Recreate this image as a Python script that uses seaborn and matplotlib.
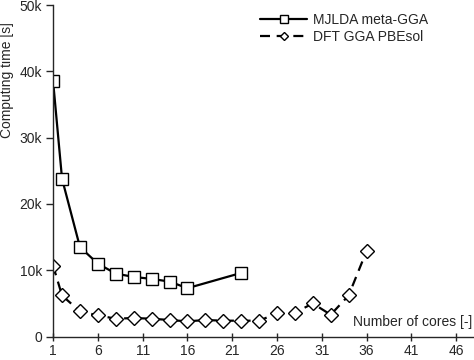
import matplotlib
matplotlib.use('Agg')
import pandas as pd
import seaborn as sns
from matplotlib import pyplot as plt
from matplotlib.ticker import FuncFormatter

mjlda_cores = [1, 2, 4, 6, 8, 10, 12, 14, 16, 22]
mjlda_time = [38500, 23800, 13500, 11000, 9500, 9000, 8700, 8300, 7300, 9600]

dft_cores = [1, 2, 4, 6, 8, 10, 12, 14, 16, 18, 20, 22, 24, 26, 28, 30, 32, 34, 36]
dft_time = [10700, 6200, 3800, 3200, 2700, 2800, 2700, 2500, 2300, 2500, 2400,
            2400, 2400, 3500, 3600, 5000, 3300, 6200, 12900]

x_ticks = [1, 6, 11, 16, 21, 26, 31, 36, 41, 46]
y_ticks = [0, 10000, 20000, 30000, 40000, 50000]

sns.set_style('ticks')
plt.rcParams['font.family'] = ['Liberation Sans', 'DejaVu Sans']

fig = plt.figure(figsize=(4.74, 3.6), dpi=100)
ax = fig.add_axes([0.112, 0.065, 0.888, 0.921])

sns.lineplot(x=mjlda_cores, y=mjlda_time, ax=ax, color='black', linewidth=1.6,
             marker='s', markersize=8, markerfacecolor='white',
             markeredgecolor='black', markeredgewidth=1.0, label='MJLDA meta-GGA')
sns.lineplot(x=dft_cores, y=dft_time, ax=ax, color='black', linewidth=1.6,
             marker='D', markersize=7, markerfacecolor='white',
             markeredgecolor='black', markeredgewidth=1.0, dashes=(4.5, 3),
             label='DFT GGA PBEsol')

ax.set_xlim(1, 48)
ax.set_ylim(0, 50000)
ax.set_xticks(x_ticks)
ax.set_yticks(y_ticks)
ax.yaxis.set_major_formatter(FuncFormatter(lambda v, p: '0' if v == 0 else f'{int(v/1000)}k'))
ax.tick_params(axis='x', direction='inout', length=6, width=1, labelsize=10, pad=2)
ax.tick_params(axis='y', direction='out', length=5, width=1, labelsize=10, pad=3)
for s in ['top', 'right']:
    ax.spines[s].set_visible(False)
for s in ['left', 'bottom']:
    ax.spines[s].set_linewidth(1.0)

ax.set_xlabel('')
ax.set_ylabel('Computing time [s]', fontsize=10)
ax.yaxis.set_label_coords(-0.092, 0.774)
ax.text(0.995, 0.045, 'Number of cores [-]', transform=ax.transAxes,
        ha='right', va='center', fontsize=10)

ax.legend(loc='upper right', bbox_to_anchor=(0.92, 1.015), frameon=False,
          fontsize=10, handlelength=3.4, handletextpad=0.4, labelspacing=0.25,
          markerscale=0.65)

fig.savefig('out.png', dpi=100)
